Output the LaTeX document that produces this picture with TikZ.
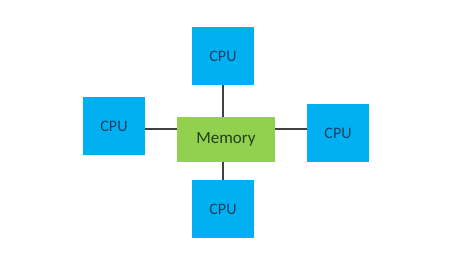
\documentclass[tikz,border=0pt]{standalone}
\usepackage{fontspec}
\setmainfont{Carlito}
\usepackage{tikz}
\usetikzlibrary{positioning}

\definecolor{cpublue}{HTML}{00B0F0}
\definecolor{memgreen}{HTML}{92D050}
\definecolor{cputext}{HTML}{1F3F66}
\definecolor{memtext}{HTML}{25401A}
\definecolor{busgray}{HTML}{404040}

\begin{document}
\begin{tikzpicture}[
  x=1pt, y=-1pt,
  cpubox/.style = {rectangle, fill=cpublue, minimum width=62pt, minimum height=58pt,
                   inner sep=0pt, text=cputext, font=\fontsize{16}{19}\selectfont},
  membox/.style = {rectangle, fill=memgreen, minimum width=98pt, minimum height=45pt,
                   inner sep=0pt, text=memtext, font=\fontsize{17}{20}\selectfont},
  bus/.style    = {draw=busgray, line width=1.5pt}
]
\useasboundingbox (0,0) rectangle (474,266);

%% -- memory in the middle --------------------------------------------------
\node[membox] (mem) at (226,139.5) {Memory};

%% -- processors round it ---------------------------------------------------
\node[cpubox] (cpuN) at (223,56)  {CPU};
\node[cpubox] (cpuW) at (114,126) {CPU};
\node[cpubox] (cpuE) at (338,133) {CPU};
\node[cpubox] (cpuS) at (223,209) {CPU};

%% -- bus lines -------------------------------------------------------------
\coordinate (busy) at (0,129);
\draw[bus] (cpuN.south) -- (mem.north -| cpuN.south);
\draw[bus] (cpuS.north) -- (mem.south -| cpuS.north);
\draw[bus] (cpuW.east |- busy) -- (mem.west |- busy);
\draw[bus] (mem.east |- busy) -- (cpuE.west |- busy);

\end{tikzpicture}
\end{document}
